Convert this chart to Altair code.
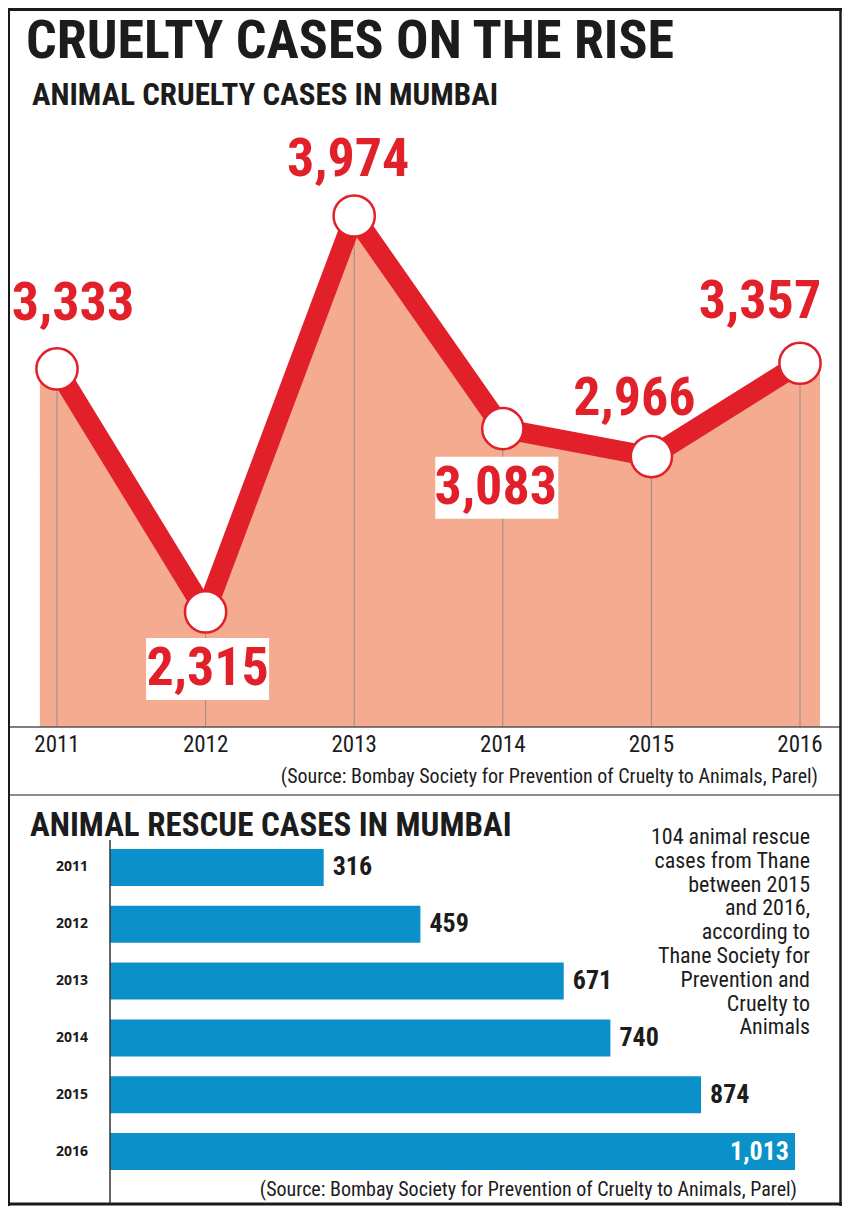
import altair as alt
import pandas as pd

# ---------------- data ----------------
years = [2011, 2012, 2013, 2014, 2015, 2016]
cruelty_cases = [3333, 2315, 3974, 3083, 2966, 3357]
rescue_cases = [316, 459, 671, 740, 874, 1013]

main_title = "CRUELTY CASES ON THE RISE"
line_title = "ANIMAL CRUELTY CASES IN MUMBAI"
bar_title = "ANIMAL RESCUE CASES IN MUMBAI"
source_text = "(Source: Bombay Society for Prevention of Cruelty to Animals, Parel)"
note_lines = ["104 animal rescue", "cases from Thane", "between 2015", "and 2016,",
              "according to", "Thane Society for", "Prevention and", "Cruelty to", "Animals"]

# ---------------- styles ----------------
W, H = 834, 1198
COND = "'Roboto Condensed', 'Liberation Sans Narrow', 'DejaVu Sans Condensed', 'Open Sans Condensed', sans-serif"
SANS = "'Open Sans', 'Noto Sans', sans-serif"
RED = "#E2202A"
SALMON = "#F4AB8F"
BLUE = "#0A91C9"
INK = "#1c1c1c"
BOX_PATH = "M-1,-0.504 L1,-0.504 L1,0.504 L-1,0.504 Z"

line_df = pd.DataFrame({"year": years, "cases": cruelty_cases,
                        "label": [f"{v:,}" for v in cruelty_cases]})
area_df = pd.DataFrame({"year": [years[0] - 0.115] + years + [years[-1] + 0.135],
                        "cases": [cruelty_cases[0]] + cruelty_cases + [cruelty_cases[-1]]})
bar_df = pd.DataFrame({"year": [str(y) for y in years], "rescue": rescue_cases,
                       "label": [f"{v:,}" for v in rescue_cases]})

base_val = 1833
xs = alt.Scale(domain=[years[0], years[-1]], range=[49, 792], nice=False, zero=False)
ys = alt.Scale(domain=[base_val, 4460], range=[719, 92], nice=False, zero=False)
X = alt.X("year:Q", scale=xs, axis=None)
Y = alt.Y("cases:Q", scale=ys, axis=None)

area = alt.Chart(area_df).mark_area(color=SALMON, opacity=1).encode(
    x=X, y=Y, y2=alt.datum(base_val))
rules = alt.Chart(line_df).mark_rule(color="#8f8f8f", strokeWidth=1).encode(
    x=X, y=Y, y2=alt.datum(base_val))
line = alt.Chart(line_df).mark_line(color=RED, strokeWidth=20, strokeJoin="round").encode(x=X, y=Y)
points = alt.Chart(line_df).mark_point(shape="circle", filled=True, fill="white", stroke=RED,
                                       strokeWidth=2.5, size=1700, opacity=1).encode(x=X, y=Y)

box_off = {2012: (2, 57), 2014: (-6, 59)}
boxes = [
    alt.Chart(line_df).transform_filter(alt.datum.year == yr).mark_point(
        shape=BOX_PATH, filled=True, fill="white", strokeWidth=0, size=123 ** 2, opacity=1,
        xOffset=off[0], yOffset=off[1]).encode(x=X, y=Y)
    for yr, off in box_off.items()
]

label_off = {2011: (16, -65), 2012: (2, 57), 2013: (-6, -56),
             2014: (-7, 59), 2015: (-17, -58), 2016: (-40, -61)}
labels = [
    alt.Chart(line_df).transform_filter(alt.datum.year == yr).mark_text(
        font=COND, fontWeight="bold", fontSize=54, color=RED, align="center",
        baseline="middle", dx=off[0], dy=off[1]).encode(x=X, y=Y, text="label:N")
    for yr, off in label_off.items()
]

year_labels = alt.Chart(line_df).mark_text(font=COND, fontSize=23, color=INK,
                                           baseline="middle").encode(
    x=X, y=alt.value(737), text=alt.Text("year:Q", format="d"))

top = alt.layer(area, rules, line, points, *boxes, *labels, year_labels)

# ---------------- bar chart ----------------
bx = alt.Scale(domain=[0, max(rescue_cases)], range=[102, 787], nice=False, zero=True)
by = alt.Scale(domain=[str(y) for y in years], range=[831, 1172],
               paddingInner=0.349, paddingOuter=0.1745)
BX = alt.X("rescue:Q", scale=bx, axis=None)
BY = alt.Y("year:N", scale=by, axis=None)

bars = alt.Chart(bar_df).mark_bar(color=BLUE).encode(x=BX, y=BY)
vmax = max(rescue_cases)
val_out = alt.Chart(bar_df).transform_filter(alt.datum.rescue < vmax).mark_text(
    font=COND, fontWeight="bold", fontSize=26, color=INK, align="left", baseline="middle",
    dx=9).encode(x=BX, y=BY, text="label:N")
val_in = alt.Chart(bar_df).transform_filter(alt.datum.rescue >= vmax).mark_text(
    font=COND, fontWeight="bold", fontSize=26, color="white", align="right", baseline="middle",
    dx=-6).encode(x=BX, y=BY, text="label:N")
bar_years = alt.Chart(bar_df).mark_text(font=SANS, fontWeight="bold", fontSize=14, color=INK,
                                        align="center", baseline="middle").encode(
    x=alt.value(64), y=BY, text="year:N")

bottom = alt.layer(bars, val_out, val_in, bar_years)

# ---------------- decorations ----------------
one = pd.DataFrame({"k": [0]})


def txt(text, x, y, **props):
    return alt.Chart(one).mark_text(text=text, **props).encode(x=alt.value(x), y=alt.value(y))


def hline(y, x1, x2, color, width):
    return alt.Chart(one).mark_rule(color=color, strokeWidth=width).encode(
        x=alt.value(x1), x2=alt.value(x2), y=alt.value(y))


def vline(x, y1, y2, color, width):
    return alt.Chart(one).mark_rule(color=color, strokeWidth=width).encode(
        x=alt.value(x), y=alt.value(y1), y2=alt.value(y2))


deco = alt.layer(
    hline(719, 0, W - 1, "#555555", 1.5),
    hline(787, 0, W - 1, "#8c8c8c", 2),
    vline(102, 832, H - 2, "#333333", 1.5),
    txt(main_title, 18, 34, font=COND, fontWeight="bold", fontSize=54, color=INK,
        align="left", baseline="middle"),
    txt(line_title, 24, 88, font=COND, fontWeight="bold", fontSize=31, color=INK,
        align="left", baseline="middle"),
    txt(bar_title, 22, 818, font=COND, fontWeight="bold", fontSize=33, color=INK,
        align="left", baseline="middle"),
    txt(source_text, 810, 769, font=COND, fontSize=20, color=INK, align="right",
        baseline="middle"),
    txt(source_text, 789, 1182, font=COND, fontSize=20, color=INK, align="right",
        baseline="middle"),
    txt(note_lines, 802, 819, font=COND, fontSize=22, color=INK, align="right",
        baseline="top", lineHeight=23.8),
    hline(1.5, 0, W, "#1a1a1a", 3),
    hline(H - 2, 0, W, "#1a1a1a", 3),
    vline(1, 0, H, "#1a1a1a", 2),
    vline(W - 1.5, 0, H, "#1a1a1a", 2.5),
)

chart = alt.layer(top, bottom, deco).resolve_scale(
    x="independent", y="independent").properties(
    width=W, height=H, padding=0, autosize=alt.AutoSizeParams(type="none")
).configure_view(stroke="transparent")

chart.save("out.html", embed_options={"renderer": "svg", "actions": False})
